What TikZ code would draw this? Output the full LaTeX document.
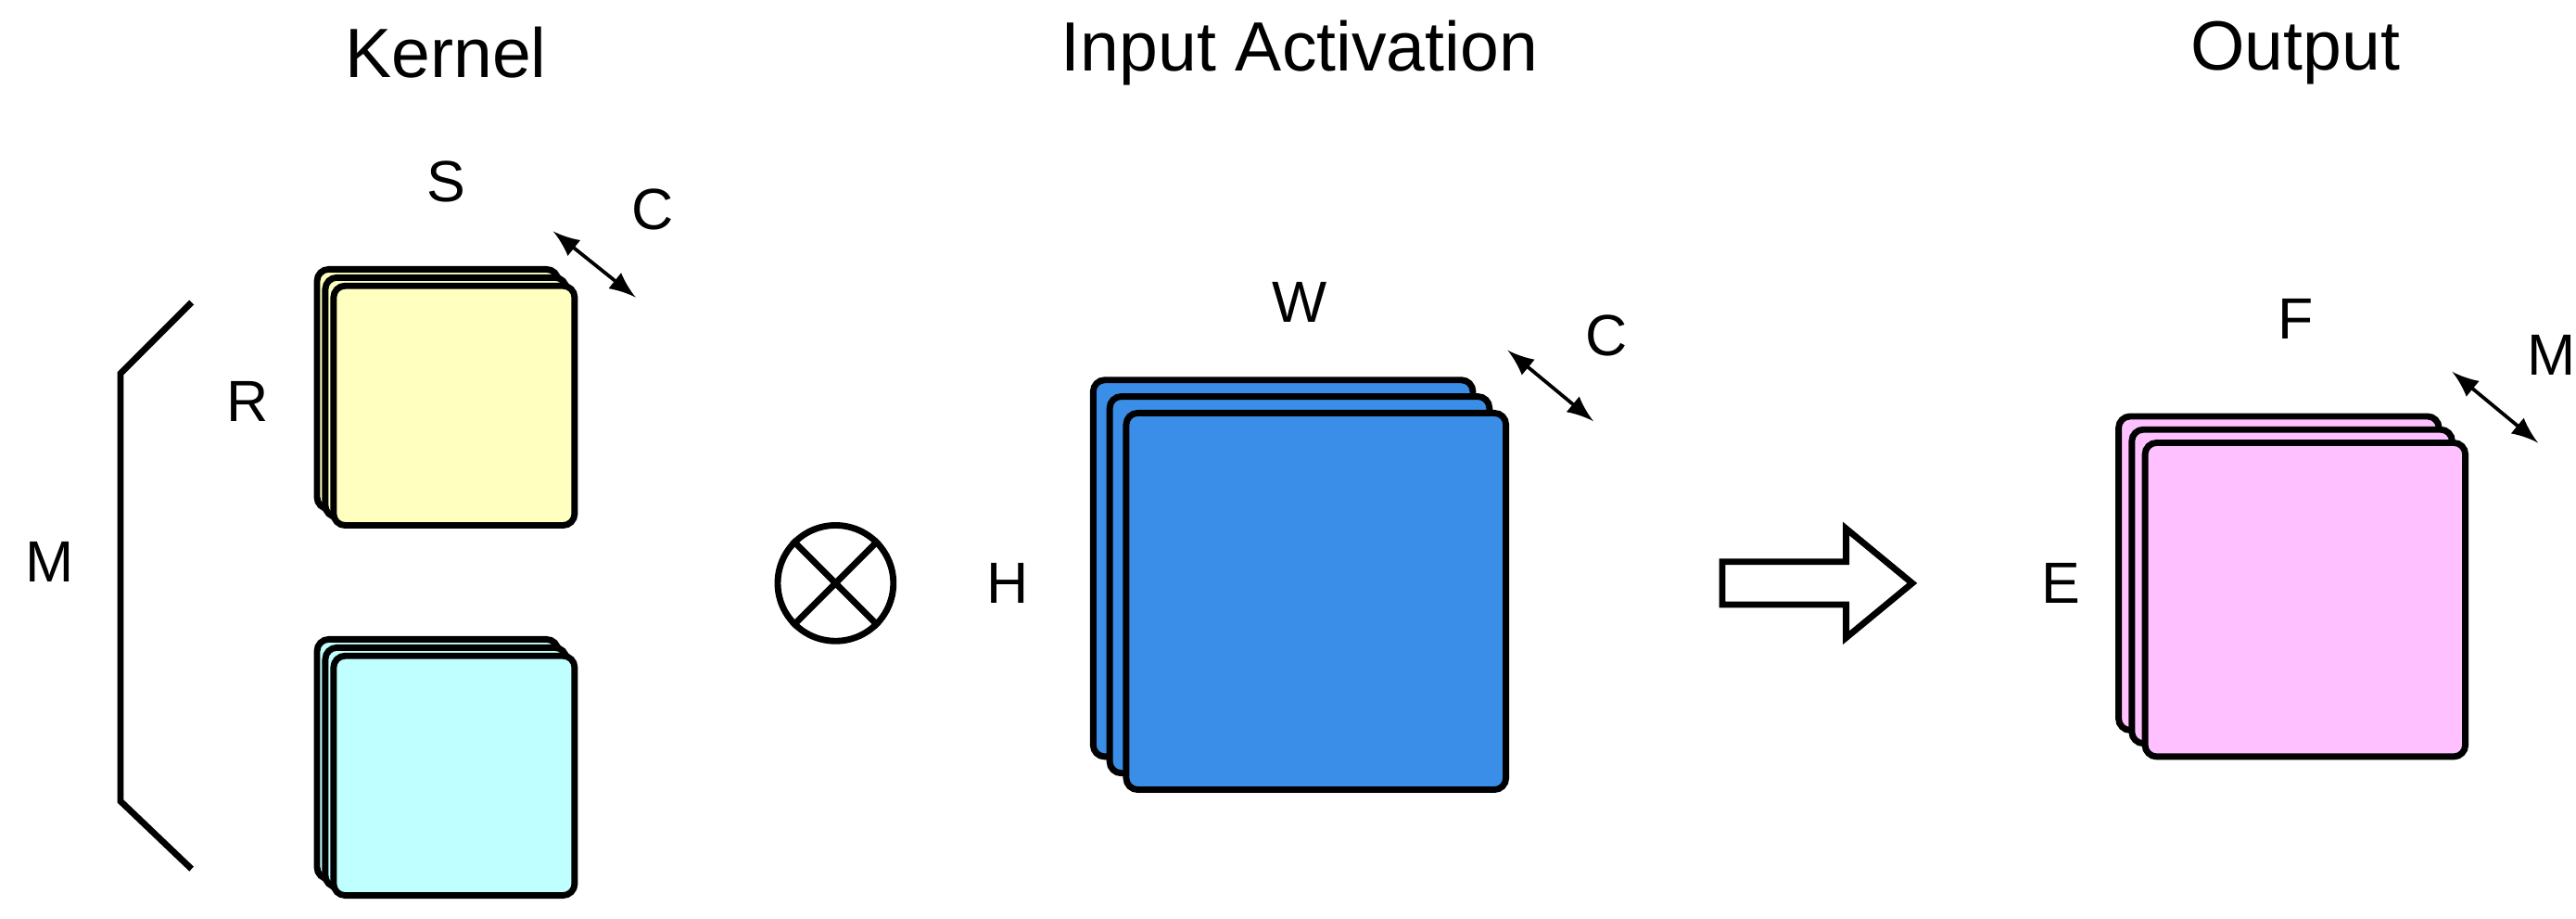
\documentclass[tikz,border=0pt]{standalone}
\usepackage{fontspec}
\setmainfont{Liberation Sans}
\begin{document}
\begin{tikzpicture}[x=0.01cm,y=-0.01cm,
  sheet/.style={draw=black,line width=1.1pt,rounded corners=2pt},
  ttl/.style={font=\fontsize{12}{14}\selectfont},
  lbl/.style={font=\fontsize{10}{12}\selectfont},
  dim/.style={<->,>=latex,line width=0.6pt}]
\useasboundingbox (0,0) rectangle (1560,556);
\node[ttl] (tk) at (270,32) {Kernel};
\node[ttl] (ti) at (787,32) {Input Activation};
\node[ttl] (to) at (1390,32) {Output};
% kernel yellow
\foreach \d in {0,5,10}{\filldraw[sheet,fill={rgb,255:red,255;green,255;blue,192}] (192+\d,163+\d) rectangle (338+\d,308+\d);}
\node[lbl] (s) at (270,110) {S};
\node[lbl] (c1) at (395,127) {C};
\node[lbl] (r) at (150,243) {R};
\coordinate (a1) at (335,140); \coordinate (b1) at (385,180);
\draw[dim] (a1) -- (b1);
% kernel cyan
\foreach \d in {0,5,10}{\filldraw[sheet,fill={rgb,255:red,192;green,255;blue,255}] (192+\d,387+\d) rectangle (338+\d,532+\d);}
% bracket
\coordinate (m1) at (116,183); \coordinate (m2) at (73,226); \coordinate (m3) at (73,485); \coordinate (m4) at (116,526);
\draw[line width=1.1pt] (m1) -- (m2) -- (m3) -- (m4);
\node[lbl] (m) at (30,340) {M};
% otimes
\node[draw,circle,line width=1.1pt,minimum size=70\pgflinewidth*0+0.7cm,inner sep=0] (ox) at (506,353) {};
\draw[line width=1.1pt] (ox.north west) -- (ox.south east) (ox.north east) -- (ox.south west);
% input
\foreach \d in {0,10,20}{\filldraw[sheet,fill={rgb,255:red,58;green,142;blue,232}] (662+\d,230+\d) rectangle (892+\d,458+\d);}
\node[lbl] (h) at (610,353) {H};
\node[lbl] (w) at (787,183) {W};
\node[lbl] (c2) at (973,203) {C};
\coordinate (a2) at (913,212); \coordinate (b2) at (965,255);
\draw[dim] (a2) -- (b2);
% hollow arrow
\draw[line width=1.1pt,fill=white] (1043,340) -- (1118,340) -- (1118,320) -- (1158,353) -- (1118,386) -- (1118,366) -- (1043,366) -- cycle;
% output
\foreach \d in {0,8,16}{\filldraw[sheet,fill={rgb,255:red,255;green,192;blue,255}] (1283+\d,252+\d) rectangle (1477+\d,442+\d);}
\node[lbl] (e) at (1248,353) {E};
\node[lbl] (f) at (1390,193) {F};
\node[lbl] (m5) at (1545,215) {M};
\coordinate (a3) at (1485,225); \coordinate (b3) at (1537,268);
\draw[dim] (a3) -- (b3);
\end{tikzpicture}
\end{document}
